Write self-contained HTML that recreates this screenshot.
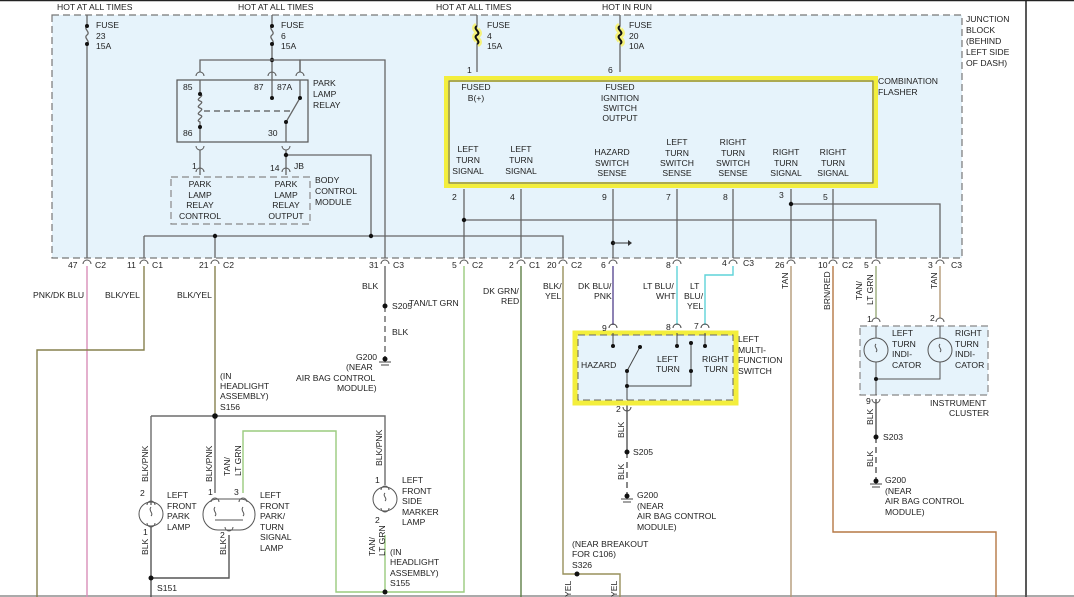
<!DOCTYPE html>
<html><head><meta charset="utf-8"><style>
html,body{margin:0;padding:0;background:#fff;}
svg{display:block;font-family:"Liberation Sans",Arial,sans-serif;font-size:8.6px;fill:#222;}
.w{fill:none;stroke:#666;stroke-width:1.3}
.k{fill:none;stroke:#555;stroke-width:1.2}
text{fill:#222;}
</style></head><body>
<svg width="1074" height="597" viewBox="0 0 1074 597" xmlns="http://www.w3.org/2000/svg">
<rect x="0" y="0" width="1074" height="597" fill="#fff"/>
<line x1="0" y1="0.5" x2="1074" y2="0.5" stroke="#222" stroke-width="1.5"/>
<line x1="1026" y1="0" x2="1026" y2="597" stroke="#222" stroke-width="1.5"/>
<line x1="0" y1="596" x2="1074" y2="596" stroke="#555" stroke-width="1"/>

<!-- junction block -->
<rect x="52" y="15" width="910" height="243" fill="#e6f3fb" stroke="#777" stroke-width="1.2" stroke-dasharray="7,4"/>
<text x="966" y="22">JUNCTION</text><text x="966" y="33">BLOCK</text><text x="966" y="44">(BEHIND</text><text x="966" y="55">LEFT SIDE</text><text x="966" y="66">OF DASH)</text>

<!-- HOT labels -->
<text x="57" y="10">HOT AT ALL TIMES</text>
<text x="238" y="10">HOT AT ALL TIMES</text>
<text x="436" y="10">HOT AT ALL TIMES</text>
<text x="602" y="10">HOT IN RUN</text>

<!-- fuses -->
<g class="w">
<path d="M87 15V26 M87 44V258"/>
<path d="M87 26c-4 3 4 6 0 9s4 6 0 9"/>
<path d="M272 15V26 M272 44V78"/>
<path d="M272 26c-4 3 4 6 0 9s4 6 0 9"/>
<path d="M477 15V26 M477 44V72"/>
<path d="M620 15V26 M620 44V72"/>
</g>
<path d="M477 26c-5 3 5 6 0 9s5 6 0 9" fill="none" stroke="#f5f27a" stroke-width="7"/>
<path d="M477 26c-5 3 5 6 0 9s5 6 0 9" fill="none" stroke="#111" stroke-width="2"/>
<path d="M620 26c-5 3 5 6 0 9s5 6 0 9" fill="none" stroke="#f5f27a" stroke-width="7"/>
<path d="M620 26c-5 3 5 6 0 9s5 6 0 9" fill="none" stroke="#111" stroke-width="2"/>
<g fill="#111"><circle cx="87" cy="26" r="2"/><circle cx="87" cy="44" r="2"/><circle cx="272" cy="26" r="2"/><circle cx="272" cy="44" r="2"/><circle cx="272" cy="60" r="2.2"/></g>
<text x="96" y="28">FUSE</text><text x="96" y="39">23</text><text x="96" y="49">15A</text>
<text x="281" y="28">FUSE</text><text x="281" y="39">6</text><text x="281" y="49">15A</text>
<text x="487" y="28">FUSE</text><text x="487" y="39">4</text><text x="487" y="49">15A</text>
<text x="629" y="28">FUSE</text><text x="629" y="39">20</text><text x="629" y="49">10A</text>

<!-- park lamp relay -->
<rect x="177" y="80" width="131" height="62" fill="none" stroke="#555" stroke-width="1.2"/>
<g class="w">
<path d="M200 72V60H300V72"/>
<path d="M300 72V60H385V258"/>
<path d="M272 78V98"/>
<path d="M200 80V94 M200 127V142"/>
<path d="M200 94c6 2-6 5 0 7s-6 5 0 7s-6 5 0 7s-6 5 0 7V127"/>
<path d="M300 80V98 L286 122V142"/>
<path d="M200 150V175 M286 150V175"/>
<path d="M286 155H371V236"/>
<path d="M144 236H563V258"/>
<path d="M144 236V258 M215 236V258"/>
<path d="M464 189V258 M464 220H876V258"/>
<path d="M521 189V258 M613 189V258 M677 189V258 M733 189V258 M791 189V258 M833 189V258"/>
<path d="M791 204H940V258"/>
</g>
<path d="M204 111H290" stroke="#555" stroke-width="1.2" stroke-dasharray="6,4" fill="none"/>
<g fill="none" stroke="#555" stroke-width="1"><path d="M196 76a4 4 0 0 1 8 0M268 76a4 4 0 0 1 8 0M296 76a4 4 0 0 1 8 0M196 146a4 4 0 0 0 8 0M282 146a4 4 0 0 0 8 0M196 172a4 4 0 0 1 8 0M282 172a4 4 0 0 1 8 0"/></g>
<g fill="#111"><circle cx="200" cy="94" r="2"/><circle cx="200" cy="127" r="2"/><circle cx="272" cy="98" r="2"/><circle cx="300" cy="98" r="2"/><circle cx="286" cy="122" r="2"/><circle cx="286" cy="155" r="2.2"/><circle cx="371" cy="236" r="2.2"/><circle cx="215" cy="236" r="2.2"/><circle cx="464" cy="220" r="2.2"/><circle cx="791" cy="204" r="2.2"/><circle cx="613" cy="243" r="2.2"/></g>
<path d="M613 243H628" stroke="#333" fill="none"/><path d="M628 240l4 3-4 3z" fill="#333"/>
<text x="183" y="90">85</text><text x="254" y="90">87</text><text x="277" y="90">87A</text>
<text x="183" y="136">86</text><text x="268" y="136">30</text>
<text x="313" y="86">PARK</text><text x="313" y="97">LAMP</text><text x="313" y="108">RELAY</text>

<!-- BCM -->
<rect x="171" y="177" width="139" height="47" fill="none" stroke="#888" stroke-width="1.2" stroke-dasharray="7,4"/>
<text x="192" y="169">1</text><text x="270" y="171">14</text><text x="294" y="169">JB</text>
<g text-anchor="middle"><text x="200" y="187">PARK</text><text x="200" y="198">LAMP</text><text x="200" y="208">RELAY</text><text x="200" y="219">CONTROL</text>
<text x="286" y="187">PARK</text><text x="286" y="198">LAMP</text><text x="286" y="208">RELAY</text><text x="286" y="219">OUTPUT</text></g>
<text x="315" y="183">BODY</text><text x="315" y="194">CONTROL</text><text x="315" y="205">MODULE</text>

<!-- combination flasher -->
<rect x="447" y="79" width="428" height="106" fill="none" stroke="#f3ee3c" stroke-width="6"/>
<rect x="449" y="81" width="424" height="102" fill="none" stroke="#666" stroke-width="1"/>
<text x="878" y="84">COMBINATION</text><text x="878" y="95">FLASHER</text>
<text x="467" y="73">1</text><text x="608" y="73">6</text>
<g text-anchor="middle">
<text x="476" y="90">FUSED</text><text x="476" y="101">B(+)</text>
<text x="620" y="90">FUSED</text><text x="620" y="101">IGNITION</text><text x="620" y="111">SWITCH</text><text x="620" y="121">OUTPUT</text>
<text x="468" y="152">LEFT</text><text x="468" y="163">TURN</text><text x="468" y="174">SIGNAL</text>
<text x="521" y="152">LEFT</text><text x="521" y="163">TURN</text><text x="521" y="174">SIGNAL</text>
<text x="612" y="155">HAZARD</text><text x="612" y="166">SWITCH</text><text x="612" y="176">SENSE</text>
<text x="677" y="145">LEFT</text><text x="677" y="156">TURN</text><text x="677" y="166">SWITCH</text><text x="677" y="176">SENSE</text>
<text x="733" y="145">RIGHT</text><text x="733" y="156">TURN</text><text x="733" y="166">SWITCH</text><text x="733" y="176">SENSE</text>
<text x="786" y="155">RIGHT</text><text x="786" y="166">TURN</text><text x="786" y="176">SIGNAL</text>
<text x="833" y="155">RIGHT</text><text x="833" y="166">TURN</text><text x="833" y="176">SIGNAL</text>
</g>
<text x="452" y="200">2</text><text x="510" y="200">4</text><text x="602" y="200">9</text><text x="666" y="200">7</text><text x="723" y="200">8</text><text x="779" y="198">3</text><text x="823" y="200">5</text>

<!-- bottom connectors -->
<g fill="none" stroke="#555" stroke-width="1">
<path d="M83 264a4 4 0 0 1 8 0M140 264a4 4 0 0 1 8 0M211 264a4 4 0 0 1 8 0M381 264a4 4 0 0 1 8 0M460 264a4 4 0 0 1 8 0M517 264a4 4 0 0 1 8 0M559 264a4 4 0 0 1 8 0M609 264a4 4 0 0 1 8 0M673 264a4 4 0 0 1 8 0M729 264a4 4 0 0 1 8 0M787 264a4 4 0 0 1 8 0M829 264a4 4 0 0 1 8 0M872 264a4 4 0 0 1 8 0M936 264a4 4 0 0 1 8 0"/>
</g>
<text x="68" y="268">47</text><text x="95" y="268">C2</text>
<text x="127" y="268">11</text><text x="152" y="268">C1</text>
<text x="199" y="268">21</text><text x="223" y="268">C2</text>
<text x="369" y="268">31</text><text x="393" y="268">C3</text>
<text x="452" y="268">5</text><text x="472" y="268">C2</text>
<text x="509" y="268">2</text><text x="529" y="268">C1</text>
<text x="547" y="268">20</text><text x="571" y="268">C2</text>
<text x="601" y="268">6</text>
<text x="666" y="268">8</text>
<text x="722" y="266">4</text><text x="743" y="266">C3</text>
<text x="775" y="268">26</text>
<text x="818" y="268">10</text><text x="842" y="268">C2</text>
<text x="864" y="268">5</text>
<text x="928" y="268">3</text><text x="951" y="268">C3</text>

<!-- wires below -->
<g fill="none" stroke-width="1.4">
<path d="M87 266V597" stroke="#d88fb8"/>
<path d="M144 266V350H37V597" stroke="#85804e"/>
<path d="M215 266V416" stroke="#85804e"/>
<path d="M385 266V306" stroke="#666"/>
<path d="M385 306V359" stroke="#666" stroke-dasharray="6,4"/>
<path d="M464 266V592H336V431H243V493" stroke="#9acb7e"/>
<path d="M385 535V592" stroke="#9acb7e"/>
<path d="M521 266V597" stroke="#5e7f46"/>
<path d="M563 266V574H620V597" stroke="#98905c"/>
<path d="M613 266V325" stroke="#5c4d93"/>
<path d="M677 266V325" stroke="#5fd3d8"/>
<path d="M733 266V275H705V325" stroke="#5fd3d8"/>
<path d="M791 266V597" stroke="#b39a78"/>
<path d="M833 266V532H996V597" stroke="#b57845"/>
<path d="M876 266V318" stroke="#9aab7a"/>
<path d="M940 266V318" stroke="#b39a78"/>
<path d="M215 416V493 M151 416H385V485 M151 416V505" stroke="#6d6d6d"/>
<path d="M151 527V597 M151 578H229V535" stroke="#555"/>
<path d="M627 405V452" stroke="#555"/>
<path d="M627 452V496" stroke="#555" stroke-dasharray="6,4"/>
<path d="M876 399V437" stroke="#555"/>
<path d="M876 437V481" stroke="#555" stroke-dasharray="6,4"/>
</g>
<g fill="#111"><circle cx="385" cy="306" r="2.5"/><circle cx="385" cy="359" r="2.5"/><circle cx="215" cy="416" r="2.8"/><circle cx="151" cy="578" r="2.5"/><circle cx="385" cy="592" r="2.5"/><circle cx="577" cy="574" r="2.5"/><circle cx="627" cy="452" r="2.5"/><circle cx="627" cy="496" r="2.5"/><circle cx="876" cy="437" r="2.5"/><circle cx="876" cy="481" r="2.5"/></g>
<g stroke="#444" stroke-width="1"><path d="M379 362h12M381 365h8"/><path d="M621 499h12M623 502h8"/><path d="M870 484h12M872 487h8"/></g>

<!-- wire labels -->
<text x="33" y="298">PNK/DK BLU</text>
<text x="105" y="298">BLK/YEL</text>
<text x="177" y="298">BLK/YEL</text>
<text x="362" y="289">BLK</text>
<text x="409" y="306">TAN/LT GRN</text>
<text x="483" y="294">DK GRN/</text><text x="501" y="304">RED</text>
<text x="543" y="289">BLK/</text><text x="545" y="299">YEL</text>
<text x="578" y="289">DK BLU/</text><text x="594" y="299">PNK</text>
<text x="643" y="289">LT BLU/</text><text x="656" y="299">WHT</text>
<text x="690" y="289">LT</text><text x="684" y="299">BLU/</text><text x="687" y="309">YEL</text>
<g transform="rotate(-90)">
<text x="-289" y="788">TAN</text>
<text x="-310" y="830">BRN/RED</text>
<text x="-300" y="862">TAN/</text><text x="-305" y="873">LT GRN</text>
<text x="-289" y="937">TAN</text>
<text x="-482" y="148">BLK/PNK</text>
<text x="-482" y="212">BLK/PNK</text>
<text x="-476" y="230">TAN/</text><text x="-476" y="241">LT GRN</text>
<text x="-466" y="382">BLK/PNK</text>
<text x="-555" y="148">BLK</text>
<text x="-555" y="226">BLK</text>
<text x="-556" y="375">TAN/</text><text x="-556" y="385">LT GRN</text>
<text x="-438" y="624">BLK</text>
<text x="-480" y="624">BLK</text>
<text x="-425" y="873">BLK</text>
<text x="-467" y="873">BLK</text>
<text x="-597" y="571">YEL</text>
<text x="-597" y="617">YEL</text>
</g>
<text x="392" y="309">S205</text>
<text x="392" y="335">BLK</text>
<text x="356" y="360">G200</text>
<text x="346" y="370">(NEAR</text>
<text x="296" y="381">AIR BAG CONTROL</text>
<text x="337" y="391">MODULE)</text>
<text x="220" y="379">(IN</text><text x="220" y="389">HEADLIGHT</text><text x="220" y="399">ASSEMBLY)</text><text x="220" y="410">S156</text>
<text x="390" y="555">(IN</text><text x="390" y="565">HEADLIGHT</text><text x="390" y="576">ASSEMBLY)</text><text x="390" y="586">S155</text>
<text x="157" y="591">S151</text>

<!-- lamps -->
<g fill="none" stroke="#555" stroke-width="1">
<circle cx="151" cy="514" r="12"/><circle cx="385" cy="499" r="12"/>
<rect x="203" y="499" width="52" height="31" rx="15"/>
<path d="M147 505a4 4 0 0 1 8 0M147 523a4 4 0 0 0 8 0M381 490a4 4 0 0 1 8 0M381 508a4 4 0 0 0 8 0M211 502a4 4 0 0 1 8 0M239 502a4 4 0 0 1 8 0M225 527a4 4 0 0 0 8 0"/>
<path d="M151 507c-3 4 3 6 0 9 M385 493c-3 3 3 5 0 8 M215 507c-3 4 3 6 0 9 M243 507c-3 4 3 6 0 9 M215 520H243"/>
</g>
<text x="140" y="496">2</text><text x="143" y="535">1</text><text x="208" y="495">1</text><text x="234" y="495">3</text><text x="220" y="538">2</text><text x="375" y="483">1</text><text x="375" y="523">2</text>
<text x="167" y="498">LEFT</text><text x="167" y="509">FRONT</text><text x="167" y="519">PARK</text><text x="167" y="530">LAMP</text>
<text x="260" y="498">LEFT</text><text x="260" y="509">FRONT</text><text x="260" y="519">PARK/</text><text x="260" y="530">TURN</text><text x="260" y="540">SIGNAL</text><text x="260" y="551">LAMP</text>
<text x="402" y="483">LEFT</text><text x="402" y="494">FRONT</text><text x="402" y="504">SIDE</text><text x="402" y="515">MARKER</text><text x="402" y="525">LAMP</text>

<!-- multifunction switch -->
<rect x="575" y="333" width="161" height="70" fill="#e6f3fb" stroke="#f3ee3c" stroke-width="5"/>
<rect x="578" y="335" width="155" height="65" fill="none" stroke="#666" stroke-width="1" stroke-dasharray="7,4"/>
<g fill="none" stroke="#444" stroke-width="1">
<path d="M609 328a4 4 0 0 1 8 0M673 328a4 4 0 0 1 8 0M701 328a4 4 0 0 1 8 0M623 407a4 4 0 0 0 8 0"/>
<path d="M613 333V346 M677 333V346 M705 333V346 M627 371L640 347 M627 371V400 M627 386H691V343 M691 371V386"/>
</g>
<g fill="#111"><circle cx="613" cy="346" r="2"/><circle cx="677" cy="346" r="2"/><circle cx="705" cy="346" r="2"/><circle cx="640" cy="347" r="2"/><circle cx="627" cy="371" r="2"/><circle cx="627" cy="386" r="2"/><circle cx="691" cy="343" r="2"/><circle cx="691" cy="371" r="2"/></g>
<text x="602" y="331">9</text><text x="666" y="330">8</text><text x="694" y="329">7</text><text x="616" y="412">2</text>
<text x="581" y="368">HAZARD</text>
<text x="657" y="362">LEFT</text><text x="656" y="372">TURN</text>
<text x="702" y="362">RIGHT</text><text x="704" y="372">TURN</text>
<text x="738" y="342">LEFT</text><text x="738" y="353">MULTI-</text><text x="738" y="363">FUNCTION</text><text x="738" y="374">SWITCH</text>
<text x="633" y="455">S205</text>
<text x="637" y="498">G200</text><text x="637" y="509">(NEAR</text><text x="637" y="519">AIR BAG CONTROL</text><text x="637" y="530">MODULE)</text>
<text x="572" y="547">(NEAR BREAKOUT</text><text x="572" y="557">FOR C106)</text><text x="572" y="568">S326</text>

<!-- instrument cluster -->
<rect x="860" y="326" width="128" height="69" fill="#e6f3fb" stroke="#888" stroke-width="1.2" stroke-dasharray="7,4"/>
<g fill="none" stroke="#555" stroke-width="1">
<circle cx="876" cy="350" r="12"/><circle cx="940" cy="350" r="12"/>
<path d="M872 322a4 4 0 0 1 8 0M936 322a4 4 0 0 1 8 0M872 399a4 4 0 0 0 8 0"/>
<path d="M876 326V338 M876 362V395 M940 326V338 M940 362V379H876 M876 344c-3 3 3 5 0 8 M940 344c-3 3 3 5 0 8"/>
</g>
<circle cx="876" cy="379" r="2" fill="#111"/>
<text x="867" y="322">1</text><text x="930" y="321">2</text><text x="866" y="404">9</text>
<text x="892" y="336">LEFT</text><text x="892" y="347">TURN</text><text x="892" y="357">INDI-</text><text x="892" y="368">CATOR</text>
<text x="955" y="336">RIGHT</text><text x="955" y="347">TURN</text><text x="955" y="357">INDI-</text><text x="955" y="368">CATOR</text>
<text x="930" y="406">INSTRUMENT</text><text x="949" y="416">CLUSTER</text>
<text x="883" y="440">S203</text>
<text x="885" y="483">G200</text><text x="885" y="494">(NEAR</text><text x="885" y="504">AIR BAG CONTROL</text><text x="885" y="515">MODULE)</text>
</svg>
</body></html>
